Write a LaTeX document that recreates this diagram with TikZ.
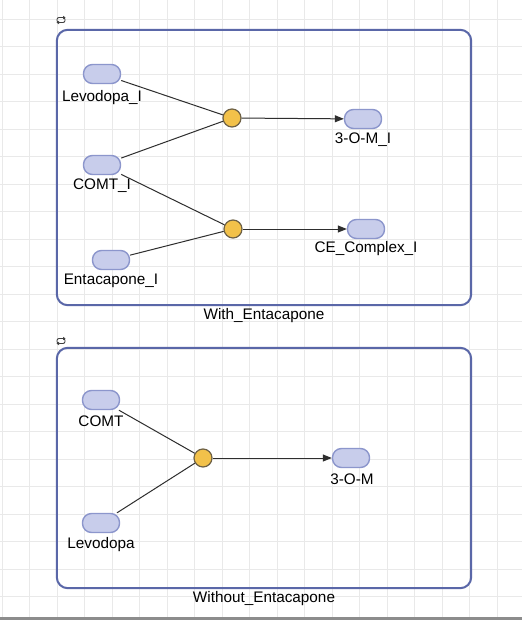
\documentclass[tikz,border=0pt]{standalone}
\usepackage{fontspec}
\setmainfont{Liberation Sans}
\usetikzlibrary{arrows.meta,calc}
\definecolor{boxc}{HTML}{5A67A8}
\definecolor{pillfill}{HTML}{C8CDEB}
\definecolor{pilldraw}{HTML}{8C96CC}
\definecolor{rxfill}{HTML}{F2C14A}
\definecolor{rxdraw}{HTML}{6E6146}
\definecolor{gridc}{HTML}{E9E9E9}
\definecolor{edgec}{HTML}{2E2E2E}
\tikzset{
  pill/.style={draw=pilldraw, fill=pillfill, line width=1.4pt, rectangle, rounded corners=9pt, minimum width=37pt, minimum height=19pt, inner sep=0pt},
  rx/.style={draw=rxdraw, fill=rxfill, line width=1.2pt, circle, minimum size=18pt, inner sep=0pt},
  lbl/.style={font=\fontsize{15.3}{18}\selectfont, inner sep=0pt, text=black},
  cont/.style={draw=boxc, line width=2pt, rounded corners=11pt},
  edge/.style={draw=edgec, line width=1pt},
  arr/.style={edge, -{Triangle[length=9pt,width=7pt]}},
  icon/.style={draw=black!75, line width=0.9pt}
}
\begin{document}
\begin{tikzpicture}[x=1pt,y=-1pt]
\useasboundingbox (0,0) rectangle (522,620);
\fill[white] (0,0) rectangle (522,620);
% grid
\foreach \i in {0,...,18} { \draw[gridc, line width=0.6pt] ({1.8+27.5*\i},0) -- ({1.8+27.5*\i},617); }
\foreach \j in {0,...,21} { \draw[gridc, line width=0.6pt] (0,{19+27.5*\j}) -- (522,{19+27.5*\j}); }
\fill[black!45] (0,617) rectangle (522,620);

% containers
\node[draw=none, inner sep=0pt, minimum width=414pt, minimum height=275pt] (boxA) at (264,167.5) {};
\draw[cont] (boxA.north west) rectangle (boxA.south east);
\node[lbl] (boxAlbl) at (264,316) {With\_Entacapone};
\node[draw=none, inner sep=0pt, minimum width=414pt, minimum height=240pt] (boxB) at (264,468) {};
\draw[cont] (boxB.north west) rectangle (boxB.south east);
\node[lbl] (boxBlbl) at (264,599) {Without\_Entacapone};

% icons
\foreach \cy/\nm in {20/iconA, 341/iconB} {
  \coordinate (\nm) at (61,\cy);
  \draw[icon, rounded corners=2pt] ($(\nm)+(-4,-2.5)$) rectangle ($(\nm)+(4,2.5)$);
  \fill[black!75] ($(\nm)+(2,-4.2)$) -- ($(\nm)+(4.5,-2.5)$) -- ($(\nm)+(2,-0.8)$) -- cycle;
  \fill[black!75] ($(\nm)+(-2,4.2)$) -- ($(\nm)+(-4.5,2.5)$) -- ($(\nm)+(-2,0.8)$) -- cycle;
}

% top panel
\node[pill] (lev1) at (102,74) {};
\node[lbl] (lev1l) at (102,98) {Levodopa\_I};
\node[pill] (comt1) at (102,165) {};
\node[lbl] (comt1l) at (102,186) {COMT\_I};
\node[pill] (ent1) at (111,260) {};
\node[lbl] (ent1l) at (111,281) {Entacapone\_I};
\node[rx] (r1) at (232,118) {};
\node[rx] (r2) at (233,229) {};
\node[pill] (om1) at (363,119) {};
\node[lbl] (om1l) at (363,140) {3-O-M\_I};
\node[pill] (ce1) at (366,229) {};
\node[lbl] (ce1l) at (366,249) {CE\_Complex\_I};

\draw[edge] (lev1) -- (r1);
\draw[edge] (comt1) -- (r1);
\draw[edge] (comt1) -- (r2);
\draw[edge] (ent1) -- (r2);
\draw[arr] (r1) -- (om1);
\draw[arr] (r2) -- (ce1);

% bottom panel
\node[pill] (comt2) at (101,400) {};
\node[lbl] (comt2l) at (101,421) {COMT};
\node[pill] (lev2) at (101,523) {};
\node[lbl] (lev2l) at (101,545) {Levodopa};
\node[rx] (r3) at (203,458) {};
\node[pill] (om2) at (351,458) {};
\node[lbl] (om2l) at (352,479) {3-O-M};

\draw[edge] (comt2) -- (r3);
\draw[edge] (lev2) -- (r3);
\draw[arr] (r3) -- (om2);
\end{tikzpicture}
\end{document}
